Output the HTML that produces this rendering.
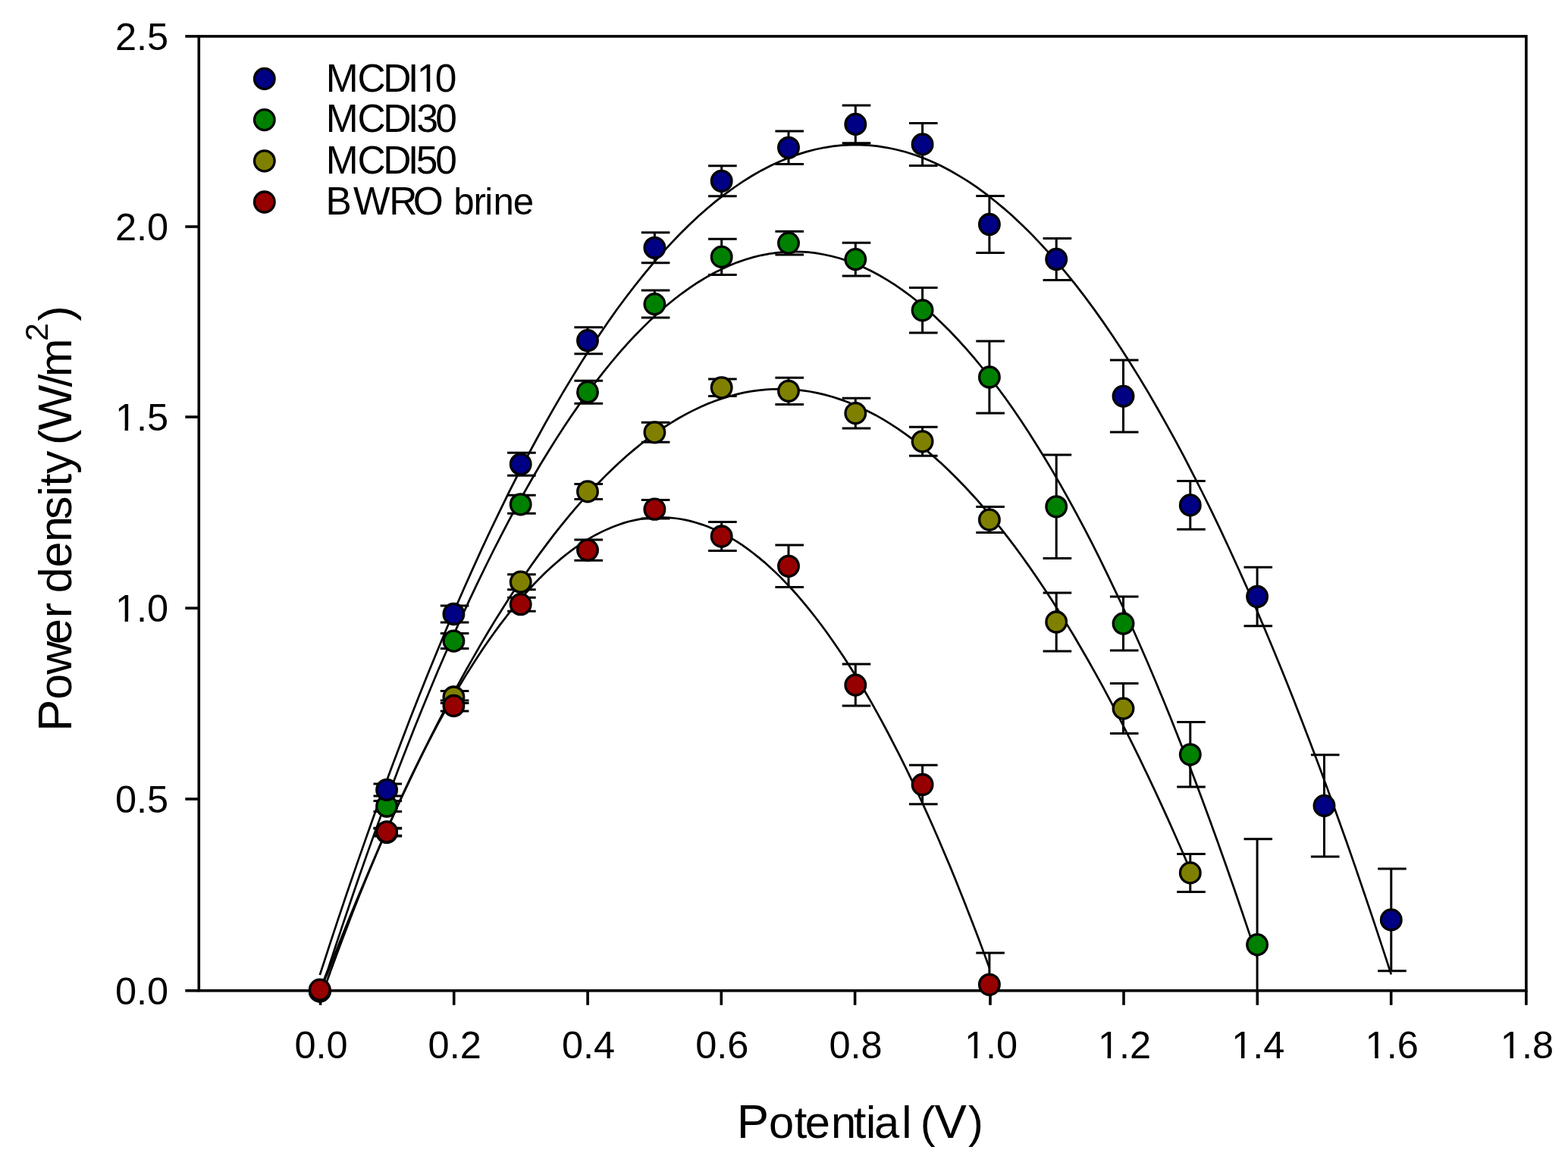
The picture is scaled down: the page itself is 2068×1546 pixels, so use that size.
<!DOCTYPE html><html><head><meta charset="utf-8"><style>html,body{margin:0;padding:0;background:#fff;}svg{display:block;}text{font-family:"Liberation Sans",Arial,sans-serif;fill:#000;}</style></head><body>
<svg width="2068" height="1546" viewBox="0 0 2068 1546">
<rect width="2068" height="1546" fill="#fff"/>
<g fill="none" stroke="#000" stroke-width="2.7">
<polyline points="421.8,1306.8 432.2,1279.8 442.6,1248.1 453.0,1216.9 463.4,1186.3 473.7,1156.2 484.1,1126.6 494.5,1097.6 504.9,1069.1 515.3,1041.2 525.7,1013.8 536.1,986.9 546.5,960.6 556.9,934.8 567.3,909.5 577.6,884.8 588.0,860.7 598.4,837.1 608.8,814.0 619.2,791.4 629.6,769.4 640.0,748.0 650.4,727.0 660.8,706.7 671.1,686.8 681.5,667.5 691.9,648.8 702.3,630.5 712.7,612.8 723.1,595.7 733.5,579.1 743.9,563.0 754.3,547.5 764.7,532.5 775.0,518.1 785.4,504.2 795.8,490.8 806.2,478.0 816.6,465.7 827.0,453.9 837.4,442.7 847.8,432.1 858.2,421.9 868.5,412.3 878.9,403.3 889.3,394.8 899.7,386.8 910.1,379.4 920.5,372.5 930.9,366.1 941.3,360.3 951.7,355.1 962.0,350.3 972.4,346.1 982.8,342.5 993.2,339.4 1003.6,336.8 1014.0,334.8 1024.4,333.3 1034.8,332.3 1045.2,331.9 1055.6,332.1 1065.9,332.7 1076.3,333.9 1086.7,335.7 1097.1,338.0 1107.5,340.8 1117.9,344.2 1128.3,348.1 1138.7,352.5 1149.1,357.5 1159.4,363.0 1169.8,369.1 1180.2,375.7 1190.6,382.8 1201.0,390.5 1211.4,398.7 1221.8,407.5 1232.2,416.8 1242.6,426.7 1253.0,437.0 1263.3,448.0 1273.7,459.4 1284.1,471.4 1294.5,484.0 1304.9,497.1 1315.3,510.7 1325.7,524.8 1336.1,539.5 1346.5,554.8 1356.8,570.6 1367.2,586.9 1377.6,603.7 1388.0,621.1 1398.4,639.1 1408.8,657.6 1419.2,676.6 1429.6,696.1 1440.0,716.2 1450.4,736.9 1460.7,758.1 1471.1,779.8 1481.5,802.0 1491.9,824.8 1502.3,848.2 1512.7,872.0 1523.1,896.5 1533.5,921.4 1543.9,946.9 1554.2,973.0 1564.6,999.5 1575.0,1026.6 1585.4,1054.3 1595.8,1082.5 1606.2,1111.2 1616.6,1140.5 1627.0,1170.3 1637.4,1200.7 1647.8,1231.6 1658.1,1263.0"/>
<polyline points="421.8,1306.8 431.4,1285.1 441.1,1260.4 450.7,1236.0 460.4,1212.1 470.0,1188.5 479.7,1165.4 489.3,1142.7 499.0,1120.3 508.6,1098.4 518.3,1076.9 527.9,1055.8 537.6,1035.1 547.2,1014.8 556.9,994.9 566.5,975.3 576.2,956.2 585.8,937.5 595.5,919.2 605.1,901.4 614.7,883.9 624.4,866.8 634.0,850.1 643.7,833.8 653.3,817.9 663.0,802.5 672.6,787.4 682.3,772.7 691.9,758.5 701.6,744.6 711.2,731.1 720.9,718.1 730.5,705.4 740.2,693.2 749.8,681.3 759.5,669.9 769.1,658.8 778.8,648.2 788.4,638.0 798.0,628.1 807.7,618.7 817.3,609.7 827.0,601.1 836.6,592.9 846.3,585.0 855.9,577.6 865.6,570.6 875.2,564.0 884.9,557.8 894.5,552.0 904.2,546.6 913.8,541.6 923.5,537.0 933.1,532.8 942.8,529.0 952.4,525.7 962.0,522.7 971.7,520.1 981.3,517.9 991.0,516.2 1000.6,514.8 1010.3,513.8 1019.9,513.3 1029.6,513.1 1039.2,513.4 1048.9,514.0 1058.5,515.1 1068.2,516.5 1077.8,518.4 1087.5,520.6 1097.1,523.3 1106.8,526.4 1116.4,529.8 1126.1,533.7 1135.7,538.0 1145.3,542.7 1155.0,547.7 1164.6,553.2 1174.3,559.1 1183.9,565.4 1193.6,572.1 1203.2,579.2 1212.9,586.7 1222.5,594.6 1232.2,602.9 1241.8,611.6 1251.5,620.7 1261.1,630.3 1270.8,640.2 1280.4,650.5 1290.1,661.2 1299.7,672.4 1309.4,683.9 1319.0,695.8 1328.6,708.2 1338.3,720.9 1347.9,734.0 1357.6,747.6 1367.2,761.5 1376.9,775.9 1386.5,790.6 1396.2,805.8 1405.8,821.4 1415.5,837.3 1425.1,853.7 1434.8,870.5 1444.4,887.6 1454.1,905.2 1463.7,923.2 1473.4,941.6 1483.0,960.4 1492.7,979.6 1502.3,999.2 1511.9,1019.2 1521.6,1039.6 1531.2,1060.4 1540.9,1081.6 1550.5,1103.2 1560.2,1125.2 1569.8,1147.6"/>
<polyline points="421.8,1286.2 433.7,1249.7 445.5,1213.8 457.4,1178.5 469.3,1143.9 481.2,1109.9 493.0,1076.5 504.9,1043.7 516.8,1011.5 528.7,980.0 540.5,949.0 552.4,918.7 564.3,889.0 576.2,860.0 588.0,831.5 599.9,803.7 611.8,776.5 623.7,749.9 635.5,723.9 647.4,698.5 659.3,673.8 671.1,649.6 683.0,626.1 694.9,603.2 706.8,581.0 718.6,559.3 730.5,538.3 742.4,517.9 754.3,498.1 766.1,478.9 778.0,460.3 789.9,442.4 801.8,425.1 813.6,408.3 825.5,392.3 837.4,376.8 849.3,361.9 861.1,347.7 873.0,334.1 884.9,321.1 896.7,308.7 908.6,297.0 920.5,285.8 932.4,275.3 944.2,265.4 956.1,256.1 968.0,247.5 979.9,239.4 991.7,232.0 1003.6,225.2 1015.5,219.0 1027.4,213.4 1039.2,208.4 1051.1,204.1 1063.0,200.4 1074.8,197.3 1086.7,194.8 1098.6,192.9 1110.5,191.7 1122.3,191.1 1134.2,191.1 1146.1,191.7 1158.0,192.9 1169.8,194.8 1181.7,197.2 1193.6,200.3 1205.5,204.0 1217.3,208.3 1229.2,213.3 1241.1,218.8 1253.0,225.0 1264.8,231.8 1276.7,239.2 1288.6,247.2 1300.4,255.9 1312.3,265.2 1324.2,275.1 1336.1,285.6 1347.9,296.7 1359.8,308.4 1371.7,320.8 1383.6,333.8 1395.4,347.4 1407.3,361.6 1419.2,376.4 1431.1,391.9 1442.9,407.9 1454.8,424.6 1466.7,441.9 1478.6,459.9 1490.4,478.4 1502.3,497.6 1514.2,517.4 1526.0,537.8 1537.9,558.8 1549.8,580.4 1561.7,602.7 1573.5,625.6 1585.4,649.0 1597.3,673.2 1609.2,697.9 1621.0,723.2 1632.9,749.2 1644.8,775.8 1656.7,803.0 1668.5,830.8 1680.4,859.3 1692.3,888.3 1704.2,918.0 1716.0,948.3 1727.9,979.2 1739.8,1010.7 1751.6,1042.9 1763.5,1075.7 1775.4,1109.0 1787.3,1143.1 1799.1,1177.7 1811.0,1212.9 1822.9,1248.8 1834.8,1285.3"/>
<polyline points="421.8,1306.8 429.2,1299.9 436.6,1279.3 444.1,1259.1 451.5,1239.3 458.9,1219.8 466.3,1200.6 473.7,1181.8 481.2,1163.3 488.6,1145.2 496.0,1127.4 503.4,1110.0 510.9,1092.9 518.3,1076.2 525.7,1059.8 533.1,1043.7 540.5,1028.1 548.0,1012.7 555.4,997.7 562.8,983.1 570.2,968.8 577.6,954.9 585.1,941.3 592.5,928.0 599.9,915.1 607.3,902.6 614.7,890.4 622.2,878.5 629.6,867.0 637.0,855.8 644.4,845.0 651.9,834.5 659.3,824.4 666.7,814.7 674.1,805.2 681.5,796.2 689.0,787.4 696.4,779.1 703.8,771.0 711.2,763.4 718.6,756.0 726.1,749.0 733.5,742.4 740.9,736.1 748.3,730.2 755.7,724.6 763.2,719.4 770.6,714.5 778.0,709.9 785.4,705.7 792.9,701.9 800.3,698.4 807.7,695.2 815.1,692.4 822.5,689.9 830.0,687.8 837.4,686.1 844.8,684.7 852.2,683.6 859.6,682.9 867.1,682.5 874.5,682.5 881.9,682.8 889.3,683.5 896.7,684.5 904.2,685.9 911.6,687.6 919.0,689.7 926.4,692.1 933.8,694.8 941.3,697.9 948.7,701.4 956.1,705.2 963.5,709.4 971.0,713.9 978.4,718.7 985.8,723.9 993.2,729.5 1000.6,735.4 1008.1,741.6 1015.5,748.2 1022.9,755.1 1030.3,762.4 1037.7,770.1 1045.2,778.0 1052.6,786.4 1060.0,795.1 1067.4,804.1 1074.8,813.5 1082.3,823.2 1089.7,833.3 1097.1,843.7 1104.5,854.4 1112.0,865.6 1119.4,877.0 1126.8,888.8 1134.2,901.0 1141.6,913.5 1149.1,926.4 1156.5,939.6 1163.9,953.1 1171.3,967.0 1178.7,981.3 1186.2,995.9 1193.6,1010.8 1201.0,1026.1 1208.4,1041.8 1215.8,1057.7 1223.3,1074.1 1230.7,1090.8 1238.1,1107.8 1245.5,1125.2 1253.0,1142.9 1260.4,1161.0 1267.8,1179.4 1275.2,1198.2 1282.6,1217.3 1290.1,1236.8 1297.5,1256.6 1304.9,1276.8"/>
</g>
<g stroke="#000" stroke-width="3.6" fill="none" stroke-linecap="butt">
<rect x="262.3" y="47.9" width="1750.6000000000001" height="1258.8999999999999"/>
<line x1="422.6" y1="1306.8" x2="422.6" y2="1325.8"/>
<line x1="598.7" y1="1306.8" x2="598.7" y2="1325.8"/>
<line x1="775.1" y1="1306.8" x2="775.1" y2="1325.8"/>
<line x1="951.3" y1="1306.8" x2="951.3" y2="1325.8"/>
<line x1="1127.6" y1="1306.8" x2="1127.6" y2="1325.8"/>
<line x1="1306.0" y1="1306.8" x2="1306.0" y2="1325.8"/>
<line x1="1482.0" y1="1306.8" x2="1482.0" y2="1325.8"/>
<line x1="1658.3" y1="1306.8" x2="1658.3" y2="1325.8"/>
<line x1="1834.7" y1="1306.8" x2="1834.7" y2="1325.8"/>
<line x1="2012.9" y1="1306.8" x2="2012.9" y2="1325.8"/>
<line x1="244.3" y1="1306.8" x2="262.3" y2="1306.8"/>
<line x1="244.3" y1="1054.0" x2="262.3" y2="1054.0"/>
<line x1="244.3" y1="802.2" x2="262.3" y2="802.2"/>
<line x1="244.3" y1="550.0" x2="262.3" y2="550.0"/>
<line x1="244.3" y1="299.0" x2="262.3" y2="299.0"/>
<line x1="244.3" y1="47.9" x2="262.3" y2="47.9"/>
</g>
<g>
<path d="M510.1,1056.5V1070.5M492.5,1056.5H530.1M492.5,1070.5H530.1M598.4,835.6V855.6M580.8,835.6H618.4M580.8,855.6H618.4M686.7,653.3V677.3M669.1,653.3H706.7M669.1,677.3H706.7M775.0,502.2V532.2M757.4,502.2H795.0M757.4,532.2H795.0M863.4,383.1V419.1M845.8,383.1H883.4M845.8,419.1H883.4M951.7,315.2V362.6M934.1,315.2H971.7M934.1,362.6H971.7M1040.0,305.2V336.0M1022.4,305.2H1060.0M1022.4,336.0H1060.0M1128.3,320.3V363.9M1110.7,320.3H1148.3M1110.7,363.9H1148.3M1216.6,379.5V439.1M1199.0,379.5H1236.6M1199.0,439.1H1236.6M1304.9,450.0V545.0M1287.3,450.0H1324.9M1287.3,545.0H1324.9M1393.2,600.1V736.5M1375.6,600.1H1413.2M1375.6,736.5H1413.2M1481.5,787.1V858.1M1463.9,787.1H1501.5M1463.9,858.1H1501.5M1569.8,952.6V1038.0M1552.2,952.6H1589.8M1552.2,1038.0H1589.8M1658.1,1106.7V1306.8M1640.5,1106.7H1678.1" stroke="#000" stroke-width="3.0" fill="none"/>
<g fill="#008000" stroke="#000" stroke-width="3.3"><ellipse cx="421.8" cy="1307.4" rx="13.3" ry="13.5"/><ellipse cx="510.1" cy="1063.5" rx="13.3" ry="13.5"/><ellipse cx="598.4" cy="845.6" rx="13.3" ry="13.5"/><ellipse cx="686.7" cy="665.3" rx="13.3" ry="13.5"/><ellipse cx="775.0" cy="517.2" rx="13.3" ry="13.5"/><ellipse cx="863.4" cy="401.1" rx="13.3" ry="13.5"/><ellipse cx="951.7" cy="338.9" rx="13.3" ry="13.5"/><ellipse cx="1040.0" cy="320.6" rx="13.3" ry="13.5"/><ellipse cx="1128.3" cy="342.1" rx="13.3" ry="13.5"/><ellipse cx="1216.6" cy="409.3" rx="13.3" ry="13.5"/><ellipse cx="1304.9" cy="497.5" rx="13.3" ry="13.5"/><ellipse cx="1393.2" cy="668.3" rx="13.3" ry="13.5"/><ellipse cx="1481.5" cy="822.6" rx="13.3" ry="13.5"/><ellipse cx="1569.8" cy="995.3" rx="13.3" ry="13.5"/><ellipse cx="1658.1" cy="1246.1" rx="13.3" ry="13.5"/></g>
</g>
<g>
<path d="M510.1,1093.0V1103.0M492.5,1093.0H530.1M492.5,1103.0H530.1M598.4,911.5V927.5M580.8,911.5H618.4M580.8,927.5H618.4M686.7,757.7V777.7M669.1,757.7H706.7M669.1,777.7H706.7M775.0,638.4V658.4M757.4,638.4H795.0M757.4,658.4H795.0M863.4,557.3V583.3M845.8,557.3H883.4M845.8,583.3H883.4M951.7,500.0V522.6M934.1,500.0H971.7M934.1,522.6H971.7M1040.0,498.2V533.4M1022.4,498.2H1060.0M1022.4,533.4H1060.0M1128.3,525.3V564.9M1110.7,525.3H1148.3M1110.7,564.9H1148.3M1216.6,563.3V601.3M1199.0,563.3H1236.6M1199.0,601.3H1236.6M1304.9,668.6V702.6M1287.3,668.6H1324.9M1287.3,702.6H1324.9M1393.2,782.0V859.0M1375.6,782.0H1413.2M1375.6,859.0H1413.2M1481.5,901.6V967.6M1463.9,901.6H1501.5M1463.9,967.6H1501.5M1569.8,1126.4V1176.4M1552.2,1126.4H1589.8M1552.2,1176.4H1589.8" stroke="#000" stroke-width="3.0" fill="none"/>
<g fill="#808000" stroke="#000" stroke-width="3.3"><ellipse cx="421.8" cy="1307.4" rx="13.3" ry="13.5"/><ellipse cx="510.1" cy="1098.0" rx="13.3" ry="13.5"/><ellipse cx="598.4" cy="919.5" rx="13.3" ry="13.5"/><ellipse cx="686.7" cy="767.7" rx="13.3" ry="13.5"/><ellipse cx="775.0" cy="648.4" rx="13.3" ry="13.5"/><ellipse cx="863.4" cy="570.3" rx="13.3" ry="13.5"/><ellipse cx="951.7" cy="511.3" rx="13.3" ry="13.5"/><ellipse cx="1040.0" cy="515.8" rx="13.3" ry="13.5"/><ellipse cx="1128.3" cy="545.1" rx="13.3" ry="13.5"/><ellipse cx="1216.6" cy="582.3" rx="13.3" ry="13.5"/><ellipse cx="1304.9" cy="685.6" rx="13.3" ry="13.5"/><ellipse cx="1393.2" cy="820.5" rx="13.3" ry="13.5"/><ellipse cx="1481.5" cy="934.6" rx="13.3" ry="13.5"/><ellipse cx="1569.8" cy="1151.4" rx="13.3" ry="13.5"/></g>
</g>
<g>
<path d="M510.1,1033.9V1049.9M492.5,1033.9H530.1M492.5,1049.9H530.1M598.4,799.0V821.0M580.8,799.0H618.4M580.8,821.0H618.4M686.7,597.3V627.3M669.1,597.3H706.7M669.1,627.3H706.7M775.0,431.7V466.7M757.4,431.7H795.0M757.4,466.7H795.0M863.4,306.8V346.8M845.8,306.8H883.4M845.8,346.8H883.4M951.7,218.8V258.8M934.1,218.8H971.7M934.1,258.8H971.7M1040.0,173.1V216.5M1022.4,173.1H1060.0M1022.4,216.5H1060.0M1128.3,139.1V188.7M1110.7,139.1H1148.3M1110.7,188.7H1148.3M1216.6,162.4V218.4M1199.0,162.4H1236.6M1199.0,218.4H1236.6M1304.9,258.5V333.5M1287.3,258.5H1324.9M1287.3,333.5H1324.9M1393.2,314.4V369.6M1375.6,314.4H1413.2M1375.6,369.6H1413.2M1481.5,475.1V570.1M1463.9,475.1H1501.5M1463.9,570.1H1501.5M1569.8,634.6V698.2M1552.2,634.6H1589.8M1552.2,698.2H1589.8M1658.1,748.3V825.7M1640.5,748.3H1678.1M1640.5,825.7H1678.1M1746.5,995.7V1130.1M1728.9,995.7H1766.5M1728.9,1130.1H1766.5M1834.8,1146.0V1280.8M1817.2,1146.0H1854.8M1817.2,1280.8H1854.8" stroke="#000" stroke-width="3.0" fill="none"/>
<g fill="#000084" stroke="#000" stroke-width="3.3"><ellipse cx="421.8" cy="1307.4" rx="13.3" ry="13.5"/><ellipse cx="510.1" cy="1041.9" rx="13.3" ry="13.5"/><ellipse cx="598.4" cy="810.0" rx="13.3" ry="13.5"/><ellipse cx="686.7" cy="612.3" rx="13.3" ry="13.5"/><ellipse cx="775.0" cy="449.2" rx="13.3" ry="13.5"/><ellipse cx="863.4" cy="326.8" rx="13.3" ry="13.5"/><ellipse cx="951.7" cy="238.8" rx="13.3" ry="13.5"/><ellipse cx="1040.0" cy="194.8" rx="13.3" ry="13.5"/><ellipse cx="1128.3" cy="163.9" rx="13.3" ry="13.5"/><ellipse cx="1216.6" cy="190.4" rx="13.3" ry="13.5"/><ellipse cx="1304.9" cy="296.0" rx="13.3" ry="13.5"/><ellipse cx="1393.2" cy="342.0" rx="13.3" ry="13.5"/><ellipse cx="1481.5" cy="522.6" rx="13.3" ry="13.5"/><ellipse cx="1569.8" cy="666.4" rx="13.3" ry="13.5"/><ellipse cx="1658.1" cy="787.0" rx="13.3" ry="13.5"/><ellipse cx="1746.5" cy="1062.9" rx="13.3" ry="13.5"/><ellipse cx="1834.8" cy="1213.4" rx="13.3" ry="13.5"/></g>
</g>
<g>
<path d="M510.1,1092.3V1102.3M492.5,1092.3H530.1M492.5,1102.3H530.1M598.4,924.0V938.0M580.8,924.0H618.4M580.8,938.0H618.4M686.7,788.2V806.2M669.1,788.2H706.7M669.1,806.2H706.7M775.0,712.0V739.2M757.4,712.0H795.0M757.4,739.2H795.0M863.4,659.4V684.0M845.8,659.4H883.4M845.8,684.0H883.4M951.7,688.5V726.5M934.1,688.5H971.7M934.1,726.5H971.7M1040.0,719.1V774.5M1022.4,719.1H1060.0M1022.4,774.5H1060.0M1128.3,876.1V931.1M1110.7,876.1H1148.3M1110.7,931.1H1148.3M1216.6,1009.3V1060.7M1199.0,1009.3H1236.6M1199.0,1060.7H1236.6M1304.9,1256.9V1306.8M1287.3,1256.9H1324.9" stroke="#000" stroke-width="3.0" fill="none"/>
<g fill="#960000" stroke="#000" stroke-width="3.3"><ellipse cx="421.8" cy="1305.6" rx="13.3" ry="13.5"/><ellipse cx="510.1" cy="1097.3" rx="13.3" ry="13.5"/><ellipse cx="598.4" cy="931.0" rx="13.3" ry="13.5"/><ellipse cx="686.7" cy="797.2" rx="13.3" ry="13.5"/><ellipse cx="775.0" cy="725.6" rx="13.3" ry="13.5"/><ellipse cx="863.4" cy="671.7" rx="13.3" ry="13.5"/><ellipse cx="951.7" cy="707.5" rx="13.3" ry="13.5"/><ellipse cx="1040.0" cy="746.8" rx="13.3" ry="13.5"/><ellipse cx="1128.3" cy="903.6" rx="13.3" ry="13.5"/><ellipse cx="1216.6" cy="1035.0" rx="13.3" ry="13.5"/><ellipse cx="1304.9" cy="1298.8" rx="13.3" ry="13.5"/></g>
</g>
<g font-size="50.5" text-anchor="end">
<text x="222.1" y="1324.6">0.0</text>
<text x="222.1" y="1071.8">0.5</text>
<text x="222.1" y="820.0">1.0</text>
<text x="222.1" y="567.8">1.5</text>
<text x="222.1" y="316.8">2.0</text>
<text x="222.1" y="65.7">2.5</text>
</g>
<g font-size="50.5" text-anchor="middle">
<text x="423.6" y="1396.2">0.0</text>
<text x="599.7" y="1396.2">0.2</text>
<text x="776.1" y="1396.2">0.4</text>
<text x="952.3" y="1396.2">0.6</text>
<text x="1128.6" y="1396.2">0.8</text>
<text x="1307.0" y="1396.2">1.0</text>
<text x="1483.0" y="1396.2">1.2</text>
<text x="1659.3" y="1396.2">1.4</text>
<text x="1835.7" y="1396.2">1.6</text>
<text x="2013.9" y="1396.2">1.8</text>
</g>
<text y="1500.9"><tspan x="971.69" font-size="63.5">P</tspan><tspan x="1013.98" font-size="59.6">o</tspan><tspan x="1047.74" font-size="59.6">t</tspan><tspan x="1061.78" font-size="59.6">e</tspan><tspan x="1096.08" font-size="59.6">n</tspan><tspan x="1125.64" font-size="59.6">t</tspan><tspan x="1142.04" font-size="59.6">i</tspan><tspan x="1153.06" font-size="59.6">a</tspan><tspan x="1189.36" font-size="59.6">l </tspan><tspan x="1213.75" font-size="59.6">(</tspan><tspan x="1232.52" font-size="63.5">V</tspan><tspan x="1277.00" font-size="59.6">)</tspan></text>
<text transform="translate(94.3,1000) rotate(-90)"><tspan x="34.93" y="0.00" font-size="63.4">P</tspan><tspan x="77.24" y="0.00" font-size="61.0">o</tspan><tspan x="110.29" y="0.00" font-size="61.0">w</tspan><tspan x="150.05" y="0.00" font-size="61.0">e</tspan><tspan x="184.72" y="0.00" font-size="61.0">r </tspan><tspan x="217.72" y="0.00" font-size="61.0">d</tspan><tspan x="251.50" y="0.00" font-size="61.0">e</tspan><tspan x="285.04" y="0.00" font-size="61.0">n</tspan><tspan x="315.00" y="0.00" font-size="61.0">s</tspan><tspan x="345.19" y="0.00" font-size="61.0">i</tspan><tspan x="358.39" y="0.00" font-size="61.0">t</tspan><tspan x="375.14" y="0.00" font-size="61.0">y </tspan><tspan x="412.93" y="0.00" font-size="61.0">(</tspan><tspan x="432.60" y="0.00" font-size="63.4">W</tspan><tspan x="489.43" y="0.00" font-size="61.0">/</tspan><tspan x="502.88" y="0.00" font-size="61.0">m</tspan><tspan x="549.94" y="-31.30" font-size="43.0">2</tspan><tspan x="576.46" y="0.00" font-size="61.0">)</tspan></text>
<ellipse cx="348.8" cy="103.9" rx="13.3" ry="13.5" fill="#000084" stroke="#000" stroke-width="3.3"/>
<text y="120.5"><tspan x="429.77" font-size="51.45">M</tspan><tspan x="471.60" font-size="51.45">C</tspan><tspan x="505.24" font-size="51.45">D</tspan><tspan x="538.00" font-size="51.45">I</tspan><tspan x="549.73" font-size="51.45">1</tspan><tspan x="573.79" font-size="51.45">0</tspan></text>
<ellipse cx="348.8" cy="158.1" rx="13.3" ry="13.5" fill="#008000" stroke="#000" stroke-width="3.3"/>
<text y="173.9"><tspan x="429.77" font-size="51.45">M</tspan><tspan x="471.60" font-size="51.45">C</tspan><tspan x="505.24" font-size="51.45">D</tspan><tspan x="538.00" font-size="51.45">I</tspan><tspan x="549.59" font-size="51.45">3</tspan><tspan x="574.24" font-size="51.45">0</tspan></text>
<ellipse cx="348.8" cy="212.3" rx="13.3" ry="13.5" fill="#808000" stroke="#000" stroke-width="3.3"/>
<text y="229.3"><tspan x="429.77" font-size="51.45">M</tspan><tspan x="471.60" font-size="51.45">C</tspan><tspan x="505.24" font-size="51.45">D</tspan><tspan x="538.00" font-size="51.45">I</tspan><tspan x="548.79" font-size="51.45">5</tspan><tspan x="574.24" font-size="51.45">0</tspan></text>
<ellipse cx="348.8" cy="266.5" rx="13.3" ry="13.5" fill="#960000" stroke="#000" stroke-width="3.3"/>
<text y="282.9"><tspan x="429.49" font-size="51.45">B</tspan><tspan x="466.04" font-size="51.45">W</tspan><tspan x="513.21" font-size="51.45">R</tspan><tspan x="544.80" font-size="51.45">O </tspan><tspan x="598.27" font-size="49.2">b</tspan><tspan x="624.38" font-size="49.2">r</tspan><tspan x="639.20" font-size="49.2">i</tspan><tspan x="650.38" font-size="49.2">n</tspan><tspan x="676.77" font-size="49.2">e</tspan></text>
<g fill="#fff"><rect x="154.86" y="815.53" width="9.74" height="5.57"/><rect x="169.06" y="815.53" width="9.47" height="5.57"/><rect x="154.86" y="563.33" width="9.74" height="5.57"/><rect x="169.06" y="563.33" width="9.47" height="5.57"/><rect x="1274.86" y="1391.73" width="9.74" height="5.57"/><rect x="1289.06" y="1391.73" width="9.47" height="5.57"/><rect x="1450.86" y="1391.73" width="9.74" height="5.57"/><rect x="1465.06" y="1391.73" width="9.47" height="5.57"/><rect x="1627.16" y="1391.73" width="9.74" height="5.57"/><rect x="1641.36" y="1391.73" width="9.47" height="5.57"/><rect x="1803.56" y="1391.73" width="9.74" height="5.57"/><rect x="1817.76" y="1391.73" width="9.47" height="5.57"/><rect x="1981.76" y="1391.73" width="9.74" height="5.57"/><rect x="1995.96" y="1391.73" width="9.47" height="5.57"/><rect x="552.74" y="115.96" width="9.92" height="5.64"/><rect x="567.21" y="115.96" width="9.65" height="5.64"/></g>
</svg></body></html>
